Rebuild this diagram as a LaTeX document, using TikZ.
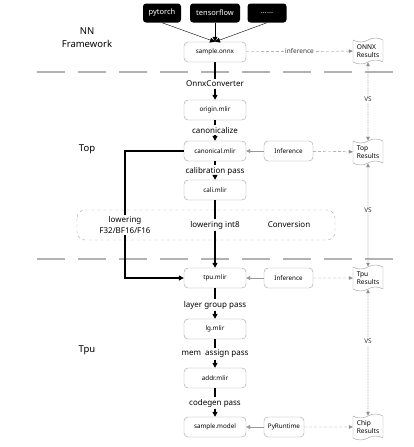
\documentclass[tikz,border=0pt]{standalone}
\usepackage{fontspec}
\setmainfont{Noto Sans}
\usetikzlibrary{arrows.meta,shapes.symbols}

\begin{document}
\begin{tikzpicture}[x=1pt,y=-1pt,
    file/.style={draw=gray!75, rounded corners=4pt, fill=white, minimum width=62pt, minimum height=20pt, inner sep=1pt, font=\fontsize{6.3}{7}\selectfont},
    tool/.style={file, minimum width=49pt},
    src/.style={fill=black, text=white, rounded corners=3pt, minimum height=19pt, inner sep=2pt, font=\fontsize{7.5}{9}\selectfont},
    res/.style={tape, draw=gray!75, fill=white, minimum width=30pt, minimum height=26pt, inner sep=1pt, tape bend height=4pt, align=left, font=\fontsize{6.6}{8}\selectfont},
    pass/.style={fill=white, inner sep=1.5pt, font=\fontsize{8}{9}\selectfont},
    stage/.style={align=center, font=\fontsize{9.5}{13}\selectfont},
    main/.style={line width=1.4pt},
    tip/.style={-{Triangle[length=5pt,width=5pt]}},
    sep/.style={gray!60, line width=2.6pt, dash pattern=on 28pt off 13pt},
    cmp/.style={gray!90, densely dashed, -{Triangle[length=4pt,width=3.5pt]}},
    vs/.style={gray!90, semithick, densely dotted, {Triangle[length=4pt,width=3.5pt]}-{Triangle[length=4pt,width=3.5pt]}},
    note/.style={fill=white, inner sep=1pt, text=black!80, font=\fontsize{6.5}{7}\selectfont}
  ]
    \useasboundingbox (0,0) rectangle (414,447);

    % stage separators
    \draw[sep] (37,72) -- (393,72);
    \draw[sep] (37,259) -- (393,259);

    % stage names
    \node[stage] at (87,38) {NN\\Framework};
    \node[stage] at (87,149) {Top};
    \node[stage] at (87,350) {Tpu};

    % conversion area
    \draw[gray!70, dashed, rounded corners=8pt] (77,210) rectangle (335,240);
    \node[font=\fontsize{8}{9}\selectfont] (conversion) at (289,225) {Conversion};

    % frameworks
    \node[src, minimum width=38pt] (pytorch) at (162,13) {pytorch};
    \node[src, minimum width=50pt] (tensorflow) at (215,13) {tensorflow};
    \node[src, minimum width=39pt] (others) at (267,13) {......};

    % files
    \node[file] (onnx) at (215,52) {sample.onnx};
    \node[file] (origin) at (215,110) {origin.mlir};
    \node[file] (canonical) at (215,151) {canonical.mlir};
    \node[file] (cali) at (215,190) {cali.mlir};
    \node[file] (tpu) at (215,278) {tpu.mlir};
    \node[file] (lg) at (215,329) {lg.mlir};
    \node[file] (addr) at (215,378) {addr.mlir};
    \node[file] (model) at (215,427) {sample.model};

    % runners
    \node[tool] (infertop) at (288.5,151) {Inference};
    \node[tool] (infertpu) at (288.5,278) {Inference};
    \node[tool, minimum width=40pt] (pyrt) at (284,427) {PyRuntime};

    % results
    \node[res] (onnxres) at (368,51) {ONNX\\Results};
    \node[res] (topres) at (368,152) {Top\\Results};
    \node[res] (tpures) at (368,278) {Tpu\\Results};
    \node[res] (chipres) at (368,427) {Chip\\Results};

    % passes
    \node[pass] (conv) at (215,84) {OnnxConverter};
    \node[pass] (canon) at (215,130) {canonicalize};
    \node[pass] (calib) at (215,171) {calibration pass};
    \node[pass] (lowint) at (215,225) {lowering int8};
    \node[pass, align=center, font=\fontsize{8}{11}\selectfont] (lowfp) at (125,225) {lowering\\F32/BF16/F16};
    \node[pass] (lgpass) at (215,305) {layer group pass};
    \node[pass] (mempass) at (215,354) {mem\ \ assign pass};
    \node[pass] (cgpass) at (215,403) {codegen pass};

    % framework export
    \draw[tip, thin] (pytorch.south) -- (onnx.north);
    \draw[tip, thin] (tensorflow.south) -- (onnx.north);
    \draw[tip, thin] (others.south) -- (onnx.north);

    % main flow
    \draw[main] (onnx) -- (conv);
    \draw[main, tip] (conv) -- (origin);
    \draw[main] (origin) -- (canon);
    \draw[main, tip] (canon) -- (canonical);
    \draw[main] (canonical) -- (calib);
    \draw[main, tip] (calib) -- (cali);
    \draw[main] (cali) -- (lowint);
    \draw[main, tip] (lowint) -- (tpu);
    \draw[main] (canonical.west) -| (lowfp);
    \draw[main, tip] (lowfp) |- (tpu.west);
    \draw[main] (tpu) -- (lgpass);
    \draw[main, tip] (lgpass) -- (lg);
    \draw[main] (lg) -- (mempass);
    \draw[main, tip] (mempass) -- (addr);
    \draw[main] (addr) -- (cgpass);
    \draw[main, tip] (cgpass) -- (model);

    % inference
    \draw[gray!80, -{Triangle[length=4pt,width=4pt]}] (infertop) -- (canonical);
    \draw[gray!80, -{Triangle[length=4pt,width=4pt]}] (infertpu) -- (tpu);
    \draw[gray!80, -{Triangle[length=4pt,width=4pt]}] (pyrt) -- (model);
    \draw[cmp] (onnx) -- node[note] {inference} (onnxres);
    \draw[cmp] (infertop) -- (topres);
    \draw[cmp] (infertpu) -- (tpures);
    \draw[cmp] (pyrt) -- (chipres);

    % comparisons
    \draw[vs] (onnxres) -- node[note, pos=0.47] {VS} (topres);
    \draw[vs] (topres) -- node[note, pos=0.45] {VS} (tpures);
    \draw[vs] (tpures) -- node[note, pos=0.41] {VS} (chipres);

\end{tikzpicture}
\end{document}
